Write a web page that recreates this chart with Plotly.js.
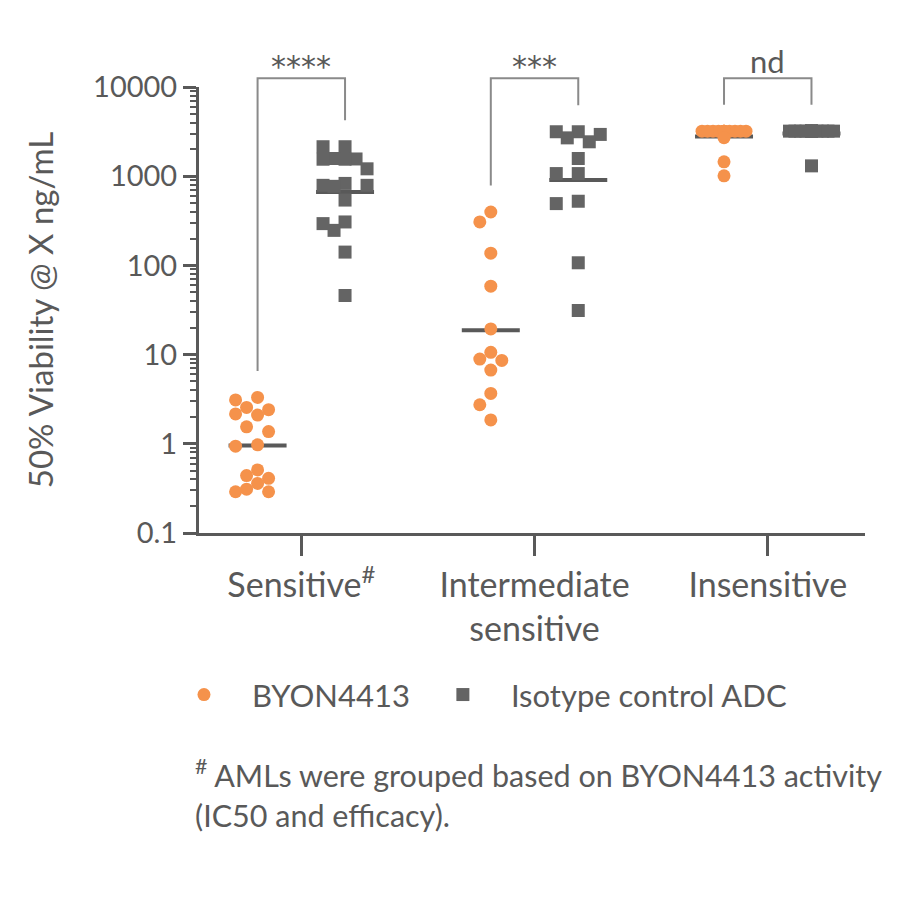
<!DOCTYPE html>
<html>
<head>
<meta charset="utf-8">
<script src="https://cdn.plot.ly/plotly-3.0.1.min.js"></script>
<style>
    html, body { margin: 0; padding: 0; background: #fff; }
    #chart { width: 916px; height: 912px; }
</style>
</head>
<body>
<div id="chart"></div>
<script>
// Values: concentration (ng/mL) giving 50% viability per AML sample
const groups = ["Sensitive", "Intermediate sensitive", "Insensitive"]
const groupLabels = ["Sensitive<sup>#</sup>", "Intermediate<br>sensitive", "Insensitive"]
const significance = ["****", "***", "nd"]
const yTickVals = [0.1, 1, 10, 100, 1000, 10000]
const yTickText = ["0.1", "1", "10", "100", "1000", "10000"]

const byonSensitive = [3.31, 3.10, 2.56, 2.41, 2.16, 2.10, 1.55, 1.37, 0.975, 0.94, 0.51, 0.44, 0.41, 0.36, 0.31, 0.29, 0.29]
const isoSensitive = [2140, 2140, 1580, 1560, 1550, 1550, 1210, 830, 790, 790, 770, 540, 307, 294, 247, 141, 46]
const byonIntermediate = [397, 307, 137, 58.5, 19.4, 10.6, 8.9, 8.6, 6.7, 3.67, 2.74, 1.85]
const isoIntermediate = [3150, 3150, 2940, 2690, 2430, 1580, 1070, 1070, 524, 493, 107, 31.2]
// insensitive samples mostly sit at the top tested concentration
const byonInsensitive = [3200, 3200, 3200, 3200, 3200, 3200, 3200, 3200, 3200, 3200, 3200, 3200, 2700, 1450, 1010]
const isoInsensitive = [3200, 3200, 3200, 3200, 3200, 3200, 3200, 3200, 3200, 3200, 3200, 3200, 3200, 3200, 1306]

const byonGroups = [byonSensitive, byonIntermediate, byonInsensitive]
const isoGroups = [isoSensitive, isoIntermediate, isoInsensitive]

// plot geometry
const W = 916, H = 912
const margin = { l: 199, r: 51, t: 87, b: 379 }
const xRange = [-0.4387, 2.417]
const yRange = [-1, 4]
const pxPerCat = (W - margin.l - margin.r) / (xRange[1] - xRange[0])
const pxPerDecade = (H - margin.t - margin.b) / (yRange[1] - yRange[0])
const pairOffset = 0.1875
const meanHalf = 29 / pxPerCat
const laneStep = 11
const minGap = 12

const orange = "#F5924B"
const grey = "#646464"
const axisGrey = "#595959"

// simple beeswarm: whole lanes first, half lanes only when points must overlap
const lanes = [0, -1, 1, -2, 2]
const allLanes = [0, -1, 1, -2, 2, -0.5, 0.5, -1.5, 1.5]
function swarm(values, center) {
    const placed = []
    const xs = new Array(values.length)
    const order = values.map((v, i) => i).sort((a, b) => values[b] - values[a])
    const nearest = (lane, py) => placed.reduce(
        (d, p) => Math.min(d, Math.hypot((lane - p.lane) * laneStep, py - p.py)), Infinity)
    order.forEach(i => {
        const py = Math.log10(values[i]) * pxPerDecade
        let best = lanes.find(l => nearest(l, py) >= minGap)
        if (best === undefined) {
            let bestDist = -1
            allLanes.forEach(l => {
                const d = nearest(l, py)
                if (d > bestDist + 0.01) { best = l; bestDist = d }
            })
        }
        placed.push({ lane: best, py })
        xs[i] = center + best * laneStep / pxPerCat
    })
    return xs
}

function geoMean(values) {
    return Math.pow(10, values.reduce((s, v) => s + Math.log10(v), 0) / values.length)
}

function pointsTrace(sets, offset, name, symbol, color) {
    const x = [], y = []
    sets.forEach((vals, g) => {
        x.push(...swarm(vals, g + offset))
        y.push(...vals)
    })
    return {
        x, y, name,
        type: "scatter",
        mode: "markers",
        marker: { symbol, size: 13, color, line: { width: 0 } },
        cliponaxis: false,
        hoverinfo: "skip",
    }
}

function meanTrace(sets, offset) {
    const x = [], y = []
    sets.forEach((vals, g) => {
        const m = geoMean(vals)
        x.push(g + offset - meanHalf, g + offset + meanHalf, null)
        y.push(m, m, null)
    })
    return {
        x, y,
        type: "scatter",
        mode: "lines",
        line: { color: axisGrey, width: 4 },
        showlegend: false,
        hoverinfo: "skip",
    }
}

const traces = [
    meanTrace(byonGroups, -pairOffset),
    meanTrace(isoGroups, pairOffset),
    pointsTrace(byonGroups, -pairOffset, "BYON4413", "circle", orange),
    pointsTrace(isoGroups, pairOffset, "Isotype control ADC", "square", grey),
]

// brackets and significance labels above each pair
const toPaperY = v => (Math.log10(v) - yRange[0]) / (yRange[1] - yRange[0])
const legGap = 26.5 / (H - margin.t - margin.b)
const bracketTop = 1.0195
const shapes = groups.map((g, i) => {
    const x0 = i - pairOffset, x1 = i + pairOffset
    const yl = toPaperY(Math.max(...byonGroups[i])) + legGap
    const yr = toPaperY(Math.max(...isoGroups[i])) + legGap
    return {
        type: "path",
        xref: "x", yref: "paper",
        path: `M ${x0},${yl} L ${x0},${bracketTop} L ${x1},${bracketTop} L ${x1},${yr}`,
        line: { color: "#8a8a8a", width: 2 },
    }
})

const annotations = significance.map((s, i) => {
    const stars = s.startsWith("*")
    return {
        x: i, xref: "x",
        y: stars ? 1.047 : 1.058, yref: "paper",
        text: s,
        showarrow: false,
        xanchor: "center", yanchor: "middle",
        font: stars
            ? { family: "DejaVu Sans, sans-serif", size: 30, color: axisGrey }
            : { size: 31, color: axisGrey },
    }
})

annotations.push({
    x: -0.009, xref: "paper", y: -0.539, yref: "paper",
    text: "<sup>#</sup> AMLs were grouped based on BYON4413 activity",
    showarrow: false, xanchor: "left", yanchor: "middle", align: "left",
    font: { size: 30.5, color: axisGrey },
})
annotations.push({
    x: -0.009, xref: "paper", y: -0.632, yref: "paper",
    text: "(IC50 and efficacy).",
    showarrow: false, xanchor: "left", yanchor: "middle", align: "left",
    font: { size: 30.5, color: axisGrey },
})

const minorTicks = []
for (let d = -1; d < 4; d++) {
    for (let k = 2; k <= 9; k++) minorTicks.push(k * Math.pow(10, d))
}

const layout = {
    width: W,
    height: H,
    margin,
    paper_bgcolor: "#ffffff",
    plot_bgcolor: "#ffffff",
    font: { family: "Lato, sans-serif", color: axisGrey, size: 30 },
    showlegend: true,
    legend: {
        orientation: "h",
        x: -0.0646, xanchor: "left",
        y: -0.363, yanchor: "middle",
        itemwidth: 86,
        font: { size: 31, color: axisGrey },
        bgcolor: "rgba(0,0,0,0)",
    },
    xaxis: {
        range: xRange,
        tickmode: "array",
        tickvals: [0, 1, 2],
        ticktext: groupLabels,
        ticks: "outside",
        ticklen: 20,
        tickwidth: 3,
        tickcolor: axisGrey,
        tickfont: { size: 34, color: axisGrey },
        showline: true,
        linewidth: 3,
        linecolor: axisGrey,
        showgrid: false,
        zeroline: false,
        fixedrange: true,
    },
    yaxis: {
        type: "log",
        range: yRange,
        tickmode: "array",
        tickvals: yTickVals,
        ticktext: yTickText,
        ticks: "outside",
        ticklen: 13,
        tickwidth: 3,
        tickcolor: axisGrey,
        tickfont: { size: 29, color: axisGrey },
        minor: {
            tickmode: "array",
            tickvals: minorTicks,
            ticks: "outside",
            ticklen: 6,
            tickwidth: 2,
            tickcolor: axisGrey,
            showgrid: false,
        },
        showline: true,
        linewidth: 3,
        linecolor: axisGrey,
        showgrid: false,
        zeroline: false,
        fixedrange: true,
        title: {
            text: "50% Viability @ X ng/mL",
            font: { size: 33, color: axisGrey },
            standoff: 30,
        },
    },
    shapes,
    annotations,
    hovermode: false,
}

Plotly.newPlot("chart", traces, layout, { displayModeBar: false, staticPlot: true })
</script>
</body>
</html>
